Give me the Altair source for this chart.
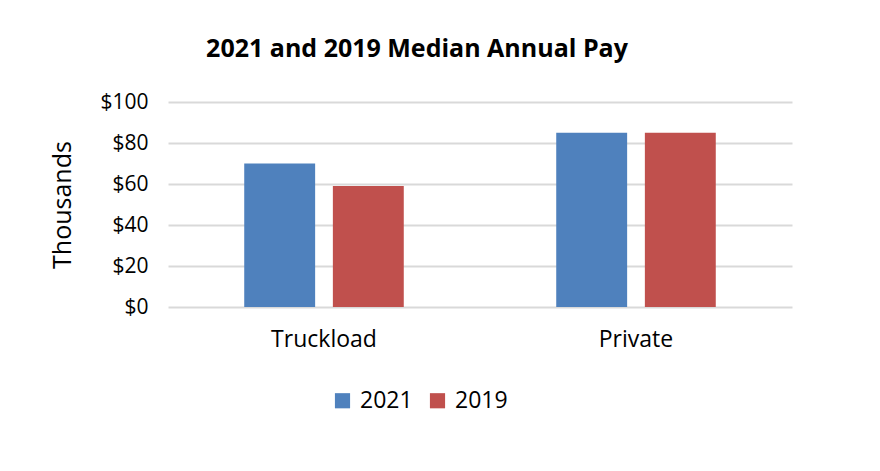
import altair as alt
import pandas as pd

categories = ["Truckload", "Truckload", "Private", "Private"]
years = ["2021", "2019", "2021", "2019"]
values = [70, 59, 85, 85]

df = pd.DataFrame({"category": categories, "year": years, "value": values})

FONT = "Open Sans"

bars = alt.Chart(df).mark_bar().encode(
    x=alt.X("category:N", sort=["Truckload", "Private"],
            scale=alt.Scale(paddingInner=0, paddingOuter=0),
            axis=alt.Axis(title=None, labelAngle=0, domain=False, ticks=False,
                          labelFontSize=23, labelPadding=21, labelColor="#000",
                          labelFont=FONT)),
    xOffset=alt.XOffset("year:N", sort=["2021", "2019"],
                        scale=alt.Scale(paddingInner=0.2, paddingOuter=0.86)),
    y=alt.Y("value:Q", scale=alt.Scale(domain=[0, 100]),
            axis=alt.Axis(title="Thousands", values=[0, 20, 40, 60, 80, 100],
                          labelExpr="'$' + datum.value", domain=False, ticks=False,
                          labelFontSize=21, labelPadding=20, labelColor="#000",
                          labelFont=FONT, titleFont=FONT, titleFontSize=25,
                          titleFontWeight="normal", titleColor="#000",
                          titlePadding=24, gridColor="#d9d9d9", gridWidth=2)),
    color=alt.Color("year:N", sort=["2021", "2019"],
                    scale=alt.Scale(domain=["2021", "2019"], range=["#4F81BD", "#C0504D"]),
                    legend=alt.Legend(title=None, orient="none", direction="horizontal",
                                      legendX=163, legendY=287, symbolType="square",
                                      symbolSize=230, labelFontSize=23, labelFont=FONT,
                                      labelColor="#000", columnPadding=13, labelOffset=6,
                                      symbolStrokeWidth=0)),
).properties(
    width=624, height=205,
    title=alt.TitleParams("2021 and 2019 Median  Annual Pay", font=FONT, fontSize=25,
                          fontWeight="bold", color="#000", dx=-63, offset=29),
)

chart = bars.configure_view(stroke=None).properties(
    autosize=alt.AutoSizeParams(type="none"),
    padding={"left": 168, "top": 102, "right": 88, "bottom": 164},
)

chart.save("out.html", embed_options={"renderer": "svg", "actions": False})
